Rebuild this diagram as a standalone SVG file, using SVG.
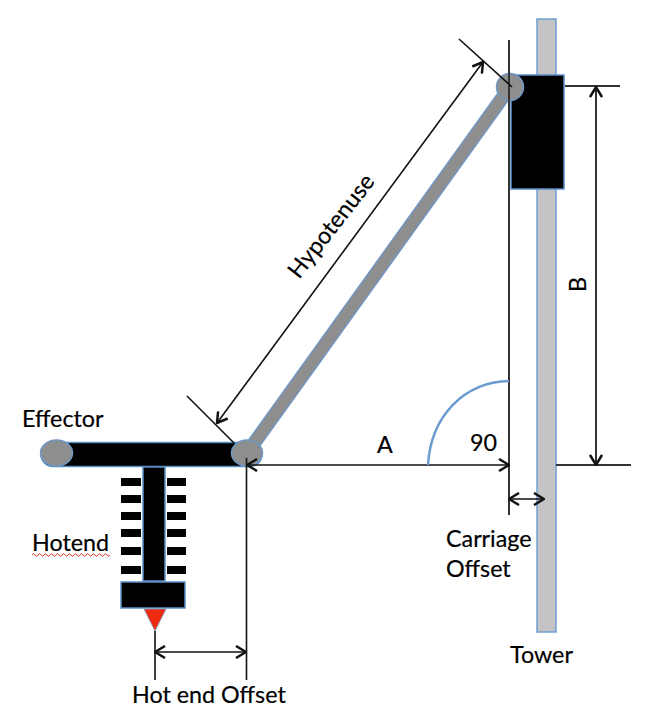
<svg xmlns="http://www.w3.org/2000/svg" width="650" height="710" viewBox="0 0 650 710">
<style>
.b{fill:#000;stroke:#5b8fc7;stroke-width:1.5}
.f{fill:#000}
.g{fill:#8e8e8e;stroke:#6f98c4;stroke-width:1.5}
.l{fill:none;stroke:#111;stroke-width:1.6}
.h{fill:none;stroke:#333;stroke-width:2}
.t{font-family:"Lato","Carlito","Liberation Sans",sans-serif;font-size:23.300px;fill:#000;stroke:#000;stroke-width:0.2}
</style>
<defs>
<marker id="a" viewBox="0 0 14 14" refX="13" refY="7" markerWidth="14" markerHeight="14" markerUnits="userSpaceOnUse" orient="auto-start-reverse">
<path d="M3 1 L13 7 L3 13" fill="none" stroke="#111" stroke-width="2.500"/>
</marker>
</defs>
<rect width="650" height="710" fill="#fff"/>
<g id="tower"><rect x="537" y="19" width="19" height="613" fill="#c4c4c6" stroke="#6f9ed2" stroke-width="1.5"/></g>
<g id="carriage"><rect class="b" x="511" y="75" width="53" height="114"/></g>
<g id="arm">
<path d="M247 453 L510 87" fill="none" stroke="#6f98c4" stroke-width="14"/>
<path d="M247 453 L510 87" fill="none" stroke="#8e8e8e" stroke-width="11"/>
</g>
<g id="effector">
<rect class="b" x="41" y="442.500" width="221" height="24" rx="12"/>
<ellipse class="g" cx="56.500" cy="453" rx="16" ry="13"/>
<ellipse class="g" cx="247" cy="453" rx="15.500" ry="13"/>
</g>
<g id="hotend">
<rect class="b" x="143" y="467" width="22" height="114"/>
<g class="f">
<rect x="121" y="478" width="20" height="8"/><rect x="167" y="478" width="19" height="8"/>
<rect x="121" y="495" width="20" height="8"/><rect x="167" y="495" width="19" height="8"/>
<rect x="121" y="512" width="20" height="8"/><rect x="167" y="512" width="19" height="8"/>
<rect x="121" y="529" width="20" height="8"/><rect x="167" y="529" width="19" height="8"/>
<rect x="121" y="547" width="20" height="8"/><rect x="167" y="547" width="19" height="8"/>
<rect x="121" y="566" width="20" height="8"/><rect x="167" y="566" width="19" height="8"/>
</g>
<rect class="b" x="121" y="582" width="64" height="26"/>
<path d="M144 609 L166 609 L155 631 Z" fill="#f02a10" stroke="#7a9cc0" stroke-width="0.8"/>
</g>
<g id="carriage-joint"><circle class="g" cx="510" cy="87" r="13.500"/></g>
<g id="connectors">
<path class="h" d="M509 40 V515"/>
<path class="h" d="M565 86 H620"/>
<path class="h" d="M556 465 H631"/>
<path class="h" d="M596 87 V465" marker-start="url(#a)" marker-end="url(#a)"/>
<path class="l" d="M247 465 H509" marker-start="url(#a)" marker-end="url(#a)"/>
<path class="l" d="M509 499 H544" marker-start="url(#a)" marker-end="url(#a)"/>
<path class="l" d="M217 423 L483 62" marker-start="url(#a)" marker-end="url(#a)"/>
<path class="l" d="M459 39 L512 87"/>
<path class="l" d="M187 396 L234 443"/>
<path class="l" d="M155 631 V680"/>
<path class="l" d="M246.500 458 V680"/>
<path class="l" d="M155 652 H246" marker-start="url(#a)" marker-end="url(#a)"/>
<path d="M428 465 C431 415 465 382 509 381" fill="none" stroke="#6b9bcf" stroke-width="2.500"/>
<path d="M32 555 q1.500 -2.500 3 0 t3 0 t3 0 t3 0 t3 0 t3 0 t3 0 t3 0 t3 0 t3 0 t3 0 t3 0 t3 0 t3 0 t3 0 t3 0 t3 0 t3 0 t3 0 t3 0 t3 0 t3 0 t3 0 t3 0 t3 0 t3 0" fill="none" stroke="#d9342b" stroke-width="1"/>
</g>
<g id="labels">
<text class="t" x="22" y="427">Effector</text>
<text class="t" x="32" y="551">Hotend</text>
<text class="t" x="132" y="703">Hot end Offset</text>
<text class="t" x="377" y="453">A</text>
<text class="t" x="470" y="451">90</text>
<text class="t" x="446" y="547">Carriage</text>
<text class="t" x="446" y="577">Offset</text>
<text class="t" x="510" y="663">Tower</text>
<text class="t" transform="translate(586 292) rotate(-90)">B</text>
<text class="t" transform="translate(299 280) rotate(-52)">Hypotenuse</text>
</g>
</svg>
